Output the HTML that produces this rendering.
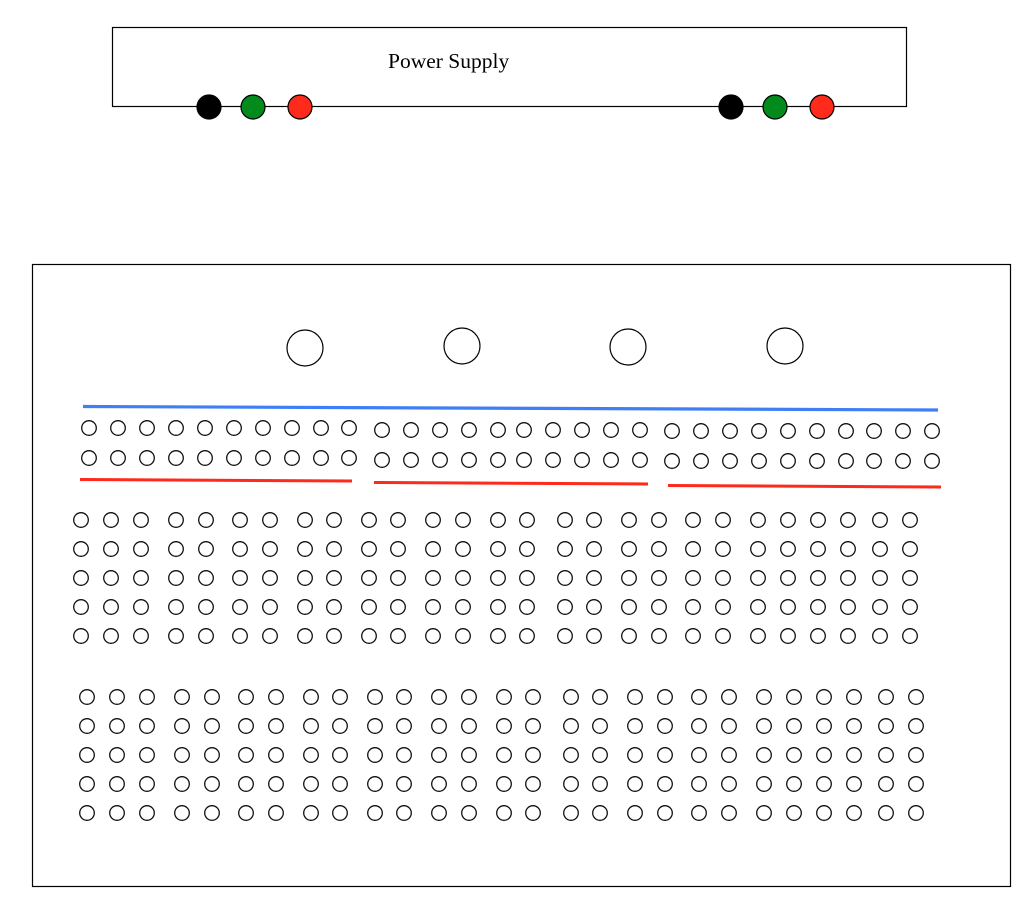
<!DOCTYPE html>
<html><head><meta charset="utf-8"><style>
html,body{margin:0;padding:0;background:#fff;width:1024px;height:906px;overflow:hidden}
svg{display:block}
</style></head><body>
<svg id="s" width="1024" height="906" viewBox="0 0 1024 906" xmlns="http://www.w3.org/2000/svg">
<rect x="112.5" y="27.5" width="794" height="79" fill="#fff" stroke="#000" stroke-width="1.2"/>
<text x="388" y="68" font-family="Liberation Serif, serif" font-size="21.5" fill="#000">Power Supply</text>
<g stroke="#000" stroke-width="1.2">
<circle cx="209" cy="107" r="12" fill="#000"/>
<circle cx="253" cy="107" r="12" fill="#028a1c"/>
<circle cx="300" cy="107" r="12" fill="#fe2a1b"/>
<circle cx="731" cy="107" r="12" fill="#000"/>
<circle cx="775" cy="107" r="12" fill="#028a1c"/>
<circle cx="822" cy="107" r="12" fill="#fe2a1b"/>
</g>
<rect x="32.5" y="264.5" width="978" height="622" fill="#fff" stroke="#000" stroke-width="1.2"/>
<g fill="none" stroke="#000" stroke-width="1.2">
<circle cx="305" cy="348" r="18"/>
<circle cx="462" cy="346" r="18"/>
<circle cx="628" cy="347" r="18"/>
<circle cx="785" cy="346" r="18"/>
</g>
<line x1="83" y1="406.5" x2="938" y2="410" stroke="#3f7ef4" stroke-width="3.2"/>
<line x1="80" y1="479.5" x2="352" y2="481" stroke="#fe2a1b" stroke-width="3"/>
<line x1="374" y1="482.5" x2="648" y2="484" stroke="#fe2a1b" stroke-width="3"/>
<line x1="668" y1="485.5" x2="941" y2="487" stroke="#fe2a1b" stroke-width="3"/>
<g id="holes" fill="none" stroke="#111" stroke-width="1.3"></g>
</svg>
<script>
var g=document.getElementById('holes'),h='';
function c(x,y){h+='<circle cx="'+x+'" cy="'+y+'" r="7.3"/>';}
var rl=[89,118,147,176,205,234,263,292,321,349],
    rm=[382,411,440,469,498,524,553,582,611,640],
    rr=[672,701,730,759,788,817,846,874,903,932];
rl.forEach(function(x){c(x,428);c(x,458);});
rm.forEach(function(x){c(x,430);c(x,460);});
rr.forEach(function(x){c(x,431);c(x,461);});
var xs=[81,111,141,176,206,240,270,305,334,369,398,433,463,498,527,565,594,629,659,693,723,758,788,818,848,880,910];
[520,549,578,607,636].forEach(function(y){xs.forEach(function(x){c(x,y);});});
[697,726,755,784,813].forEach(function(y){xs.forEach(function(x){c(x+6,y);});});
g.innerHTML=h;
</script>
</body></html>
